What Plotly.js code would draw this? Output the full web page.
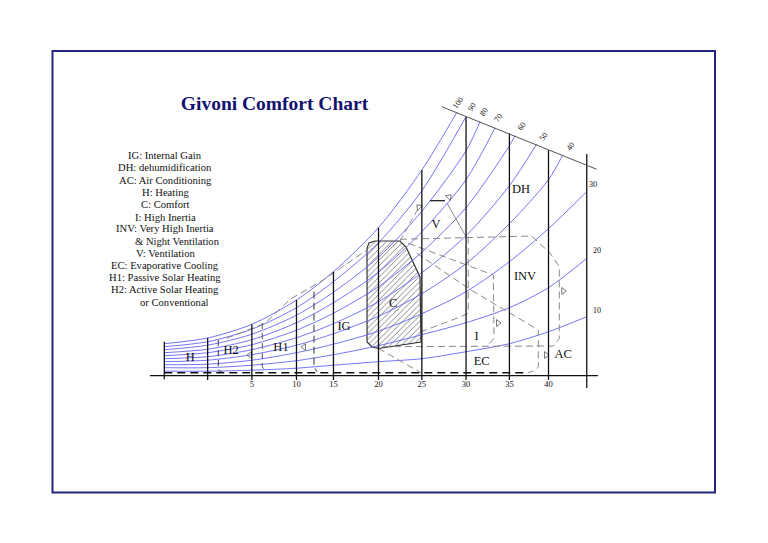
<!DOCTYPE html>
<html><head><meta charset="utf-8">
<script src="https://cdn.plot.ly/plotly-3.0.1.min.js"></script>
<style>html,body{margin:0;padding:0;background:#fff}#chart{width:768px;height:543px}</style>
</head><body><div id="chart"></div>
<script>
// ---------- DATA (x = dry bulb temperature °C, y = humidity ratio g/kg) ----------
const tempLinePos    = [-5.2, -0.1, 5.1, 10.35, 14.7, 20, 25.1, 30.3, 35.4, 40, 44.5];
const tempLineTop    = [3.4, 3.77, 5.14, 7.57, 10.4, 14.8, 20.57, 25.9, 24.24, 22.57, 22.17];
const tempLineBottom = [-0.36, -0.43, -0.43, -0.43, -0.43, -0.43, -0.43, -0.43, -0.43, -0.43, -1.23];
const tickLabels = ['5','10','15','20','25','30','35','40'];
const tickPos    = [5.1, 10.35, 14.7, 20, 25.1, 30.3, 35.4, 40];

const rhLevels = ['100','90','80','70','60','50','40','30','20','10'];
const rh100X = [-5.2,-0.1,5.1,10.35,14.7,20,25.1,29.2];
const rh100Y = [3.2,3.77,5.14,7.57,10.4,14.8,20.57,26.3];
const rh90X  = [-5.2,-0.1,5.1,10.35,14.7,20,25.1,30.3];
const rh90Y  = [2.9,3.4,4.65,6.8,9.4,13.3,18.5,25.9];
const rh80X  = [-5.2,-0.1,5.1,10.35,14.7,20,25.1,30.3,31.94];
const rh80Y  = [2.6,3.05,4.15,6.05,8.35,11.85,16.45,22.5,25.4];
const rh70X  = [-5.2,-0.1,5.1,10.35,14.7,20,25.1,30.3,33.71];
const rh70Y  = [2.3,2.65,3.6,5.3,7.3,10.35,14.4,19.6,24.8];
const rh60X  = [-5.2,-0.1,5.1,10.35,14.7,20,25.1,30.3,35.4,36.06];
const rh60Y  = [2.0,2.3,3.1,4.55,6.25,8.9,12.35,16.8,23.0,24.0];
const rh50X  = [-5.2,-0.1,5.1,10.35,14.7,20,25.1,30.3,35.4,38.61];
const rh50Y  = [1.7,1.9,2.6,3.8,5.2,7.4,10.3,14.0,19.0,23.17];
const rh40X  = [-5.2,-0.1,5.1,10.35,14.7,20,25.1,30.3,35.4,40,41.67];
const rh40Y  = [1.4,1.55,2.1,3.05,4.2,5.95,8.2,11.2,15.2,19.6,22.07];
const rh30X  = [-5.2,-0.1,5.1,10.35,14.7,20,25.1,30.3,35.4,40,44.5];
const rh30Y  = [1.1,1.15,1.55,2.3,3.15,4.45,6.2,8.4,11.4,14.7,18.4];
const rh20X  = [-5.2,-0.1,5.1,10.35,14.7,20,25.1,30.3,35.4,40,44.5];
const rh20Y  = [0.8,0.8,1.05,1.5,2.1,3.0,4.1,5.3,6.8,8.8,11.74];
const rh10X  = [-5.2,-0.1,5.1,10.35,14.7,20,25.1,30.3,35.4,40,44.5];
const rh10Y  = [0.45,0.45,0.55,0.75,1.05,1.4,1.7,2.4,3.2,4.4,5.9];

const satEdgeX = [27.44, 45.67];
const satEdgeY = [26.9, 20.64];
const rhLabelX = [29.4, 31.05, 32.46, 34.11, 36.85, 39.4, 42.54, 45.2, 45.7, 45.7];
const rhLabelY = [27.3, 26.9, 26.4, 25.84, 24.9, 23.97, 22.97, 19.17, 12.57, 6.57];

const comfortX = [19.59,22.53,23.24,24.88,25.0,19.98,19.24,18.65,18.65,18.88,19.59];
const comfortY = [13.47,13.47,12.87,9.87,3.37,2.72,2.87,3.37,12.77,13.27,13.47];

const heatUpperX = [2.14, 6.65, 9.59, 13.51, 18.61];
const heatUpperY = [3.74, 5.24, 7.64, 9.57, 12.57];
const h2RightX = [1.15, 1.15, 1.5, 2.14];
const h2RightY = [3.57, 0.57, 0.35, 0.29];
const h1RightX = [6.33, 6.33, 6.65];
const h1RightY = [5.27, 0.9, 0.4];
const igRightX = [12.41, 12.41, 12.76];
const igRightY = [8.4, 0.9, 0.4];
const ecLeftX = [19.98, 25.0];
const ecLeftY = [2.74, 0.29];
const invZoneX = [22.53, 38.02, 40.18, 41.27, 41.27, 40.57, 19.98];
const invZoneY = [13.64, 13.97, 12.27, 10.9, 3.74, 2.97, 2.9];
const iLeftX = [30.56, 30.56, 29.59, 25.0];
const iLeftY = [13.9, 6.24, 5.87, 4.4];
const iRightX = [23.51, 33.51, 33.59, 32.73];
const iRightY = [13.24, 10.07, 3.74, 2.9];
const ecRightX = [24.5, 31, 36, 38.8, 38.8, 38.3, 37.59];
const ecRightY = [12.24, 8.5, 6.0, 4.57, 0.87, 0.5, 0.29];
const baseDashX = [-5.2, 37.59];
const baseDashY = [0.29, 0.29];
const vLeftX = [22.53, 24.76];
const vLeftY = [13.47, 16.87];
const vRightX = [28.1, 30.3];
const vRightY = [17.2, 13.9];
const vTopX = [26.06, 27.82];
const vTopY = [17.5, 17.5];
const arrowX = [41.74, 39.71, 34.06, 11.24, 4.88, 28.29, 24.76];
const arrowY = [8.47, 2.07, 5.27, 2.87, 2.07, 17.87, 16.87];
const arrowDir = ['right','right','right','left','left','right','left'];
const arrowTilt = [0, 0, 0, 0, 0, -45, 45];

const zoneLabels = ['H','H2','H1','IG','C','V','DH','INV','I','EC','AC'];
const zoneX = [-2.15, 2.65, 8.53, 15.94, 21.74, 26.76, 36.76, 37.24, 31.55, 32.14, 41.74];
const zoneY = [1.74, 2.47, 2.74, 4.9, 7.17, 15.07, 18.57, 9.9, 3.9, 1.4, 2.07];

const legendLines = ['IG: Internal Gain','DH: dehumidification','AC: Air Conditioning','H: Heating','C: Comfort','I: High Inertia','INV: Very High Inertia','& Night Ventilation','V: Ventilation','EC: Evaporative Cooling','H1: Passive Solar Heating','H2: Active Solar Heating','or Conventional'];

// ---------- BUILD ----------
const W = 768, H = 543;
const px = x => x / W, py = y => 1 - y / H;
const SERIF = 'Liberation Serif, Times New Roman, serif';
const BLUE = '#6464f8', DASHG = '#8a8a8a';
const traces = [];

traces.push({x: comfortX, y: comfortY, mode:'lines', fill:'toself', fillcolor:'rgba(255,255,255,0)',
  fillpattern:{shape:'/', fgcolor:'#6a6a6a', bgcolor:'#fff', size:4, solidity:0.2},
  line:{color:'#333', width:1.2}, hoverinfo:'skip'});

const rhX = [rh100X,rh90X,rh80X,rh70X,rh60X,rh50X,rh40X,rh30X,rh20X,rh10X];
const rhY = [rh100Y,rh90Y,rh80Y,rh70Y,rh60Y,rh50Y,rh40Y,rh30Y,rh20Y,rh10Y];
rhX.forEach((xs,i)=>traces.push({x:xs, y:rhY[i], mode:'lines', line:{color:BLUE, width:0.9, shape:'spline', smoothing:0.8}, hoverinfo:'skip', name:rhLevels[i]}));

function dashed(xs, ys, color, width, dash){ traces.push({x:xs, y:ys, mode:'lines', line:{color:color, width:width, dash:dash}, hoverinfo:'skip'}); }
dashed(heatUpperX, heatUpperY, DASHG, 1, '7px,4px');
dashed(h2RightX, h2RightY, '#333', 1, '6px,4px');
dashed(h1RightX, h1RightY, '#555', 1, '6px,4px');
dashed(igRightX, igRightY, '#333', 1, '7px,4px');
dashed(ecLeftX, ecLeftY, DASHG, 1, '7px,4px');
dashed(invZoneX, invZoneY, DASHG, 1, '7px,4px');
dashed(iLeftX, iLeftY, DASHG, 1, '7px,4px');
dashed(iRightX, iRightY, DASHG, 1, '7px,4px');
dashed(ecRightX, ecRightY, DASHG, 1, '7px,4px');
dashed(vLeftX, vLeftY, DASHG, 1, '6px,4px');
dashed(vRightX, vRightY, DASHG, 1, 'solid');
dashed(vTopX, vTopY, '#111', 1.2, 'solid');
dashed(baseDashX, baseDashY, '#111', 1.4, '8px,5px');

traces.push({x:arrowX, y:arrowY, mode:'markers', hoverinfo:'skip',
  marker:{symbol: arrowDir.map(d=>'triangle-'+d+'-open'), angle: arrowTilt, size:6, color:'#777', line:{width:1, color:'#777'}}});

const vx=[], vy=[];
tempLinePos.forEach((t,i)=>{ vx.push(t,t,null); vy.push(tempLineBottom[i], tempLineTop[i], null); });
traces.push({x:vx, y:vy, mode:'lines', line:{color:'#111', width:1.3}, hoverinfo:'skip'});
traces.push({x:satEdgeX, y:satEdgeY, mode:'lines', line:{color:'#555', width:1}, hoverinfo:'skip'});
traces.push({x:[-6.88,45.82], y:[0,0], mode:'lines', line:{color:'#111', width:1.3}, hoverinfo:'skip'});
traces.push({x:zoneX, y:zoneY, mode:'text', text:zoneLabels, textfont:{family:SERIF, size:12.5, color:'#111'}, hoverinfo:'skip'});

const annotations = [];
rhLevels.forEach((r,i)=>{
  annotations.push({x:rhLabelX[i], y:rhLabelY[i], xref:'x', yref:'y', text:r, showarrow:false,
    textangle: i<7 ? -55 : 0, font:{family:SERIF, size:8, color:'#111'}});
});
const legY = [155,167.3,180,192.3,204.7,217,229,241.3,253.3,265.3,277.3,289.7,302];
const legX = [165,165,165,165,165,165,165,177.5,165.3,164.8,165.2,164.8,174.5];
legendLines.forEach((t,i)=>annotations.push({x:px(legX[i]), y:py(legY[i]), xref:'paper', yref:'paper', text:t, showarrow:false,
  xanchor:'center', yanchor:'middle', font:{family:SERIF, size:10.6, color:'#111'}}));

const layout = {
  width:W, height:H, margin:{l:0,r:0,t:0,b:0}, showlegend:false,
  paper_bgcolor:'#fff', plot_bgcolor:'#fff',
  title:{text:'Givoni Comfort Chart', x:px(274.5), y:py(103), xanchor:'center', yanchor:'middle',
    font:{family:SERIF, size:19.5, color:'#12126e', weight:'bold'}},
  xaxis:{range:[-24.5294, 65.8235], showgrid:false, zeroline:false, showline:false, ticks:'',
    tickmode:'array', tickvals:tickPos, ticktext:tickLabels, tickfont:{family:SERIF, size:8.5, color:'#111'},
    ticklabelstandoff:2, anchor:'free', position:1-375.7/543, fixedrange:true},
  yaxis:{range:[-16.73, 37.57], visible:false, fixedrange:true},
  shapes:[{type:'rect', xref:'paper', yref:'paper', x0:px(52.5), x1:px(715), y0:py(51), y1:py(492.5),
    line:{color:'#24247c', width:2}}],
  annotations: annotations
};
Plotly.newPlot('chart', traces, layout, {staticPlot:true});
</script></body></html>
